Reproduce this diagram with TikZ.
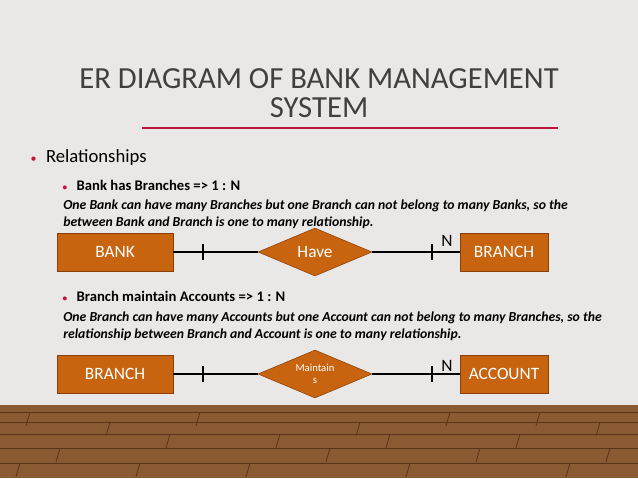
\documentclass[tikz,border=0pt]{standalone}
\usepackage{fontspec}
\setmainfont{Carlito}
\usetikzlibrary{shapes.geometric}
\definecolor{ent}{HTML}{C8640F}
\definecolor{entd}{HTML}{8A3F08}
\definecolor{bg}{HTML}{E9E8E6}
\definecolor{wood}{HTML}{8A5A33}
\definecolor{woodd}{HTML}{5A3418}
\definecolor{redl}{HTML}{C0143C}
\begin{document}
\begin{tikzpicture}[x=0.75pt,y=-0.75pt,
  ent/.style={draw=entd,fill=ent,minimum width=87pt,minimum height=28.5pt,inner sep=0,text=white,font=\fontsize{13}{15}\selectfont},
  entr/.style={ent,minimum width=66pt},
  rel/.style={diamond,draw=entd,fill=ent,minimum width=85.5pt,minimum height=36pt,aspect=2.4,inner sep=0,text=white,font=\fontsize{13}{15}\selectfont},
  conn/.style={draw=black,line width=0.9pt},
  tick/.style={draw=black,line width=0.9pt},
  lab/.style={font=\fontsize{13}{15}\selectfont},
  dot/.style={text=redl,font=\fontsize{8}{9}\selectfont}]
\useasboundingbox (0,0) rectangle (638,478);
\fill[bg] (0,0) rectangle (638,478);
% floor
\fill[wood] (0,405) rectangle (638,478);
\foreach \y in {412,422,434,448,463} \draw[woodd,line width=0.6pt] (0,\y) -- (638,\y);
\foreach \x/\y in {30/412,110/422,200/412,280/434,360/422,450/412,520/434,600/422,60/448,170/434,250/463,330/448,410/463,480/448,570/463,20/463,140/463,390/434,540/412,610/448}
  \draw[woodd,line width=0.6pt] (\x,\y) -- ++(-4,14);
% title
\node[font=\fontsize{23}{22}\selectfont,text=black!75,align=center] (title) at (319,93) {ER DIAGRAM OF BANK MANAGEMENT\\SYSTEM};
\draw[redl,line width=1.5pt] (142,128) -- (558,128);
\node[anchor=west,font=\fontsize{14}{16}\selectfont] (b1) at (26,158) {\textcolor{redl}{\fontsize{9}{9}\selectfont•}\hspace{7pt}Relationships};
\node[anchor=west,font=\bfseries\fontsize{11}{13}\selectfont] (b2) at (58,185) {\textcolor{redl}{\fontsize{7}{7}\selectfont•}\hspace{7pt}Bank has Branches => 1 : N};
\node[anchor=north west,align=left,font=\bfseries\itshape\fontsize{10.3}{12.8}\selectfont,inner sep=0] (t1) at (63,200) {One Bank can have many Branches but one Branch can not belong to many Banks, so the\\between Bank and Branch is one to many relationship.};
\node[anchor=west,font=\bfseries\fontsize{11}{13}\selectfont] (b3) at (58,296) {\textcolor{redl}{\fontsize{7}{7}\selectfont•}\hspace{7pt}Branch maintain Accounts => 1 : N};
\node[anchor=north west,align=left,font=\bfseries\itshape\fontsize{10.3}{12.8}\selectfont,inner sep=0] (t2) at (63,312) {One Branch can have many Accounts but one Account can not belong to many Branches, so the\\relationship between Branch and Account is one to many relationship.};
% row 1
\node[ent] (bank) at (115,252) {BANK};
\node[rel] (have) at (315,252) {Have};
\node[entr] (branch1) at (504,252) {BRANCH};
\draw[conn] (bank) -- (have) -- (branch1);
\draw[tick] (203,244) -- (203,260);
\draw[tick] (432,244) -- (432,260);
\node[lab] (n1) at (447,241) {N};
% row 2
\node[ent] (branch2) at (115,374) {BRANCH};
\node[rel,font=\fontsize{8}{9}\selectfont,align=center] (maint) at (315,374) {Maintain\\s};
\node[entr] (acct) at (504,374) {ACCOUNT};
\draw[conn] (branch2) -- (maint) -- (acct);
\draw[tick] (203,366) -- (203,382);
\draw[tick] (432,366) -- (432,382);
\node[lab] (n2) at (447,366) {N};
\end{tikzpicture}
\end{document}
